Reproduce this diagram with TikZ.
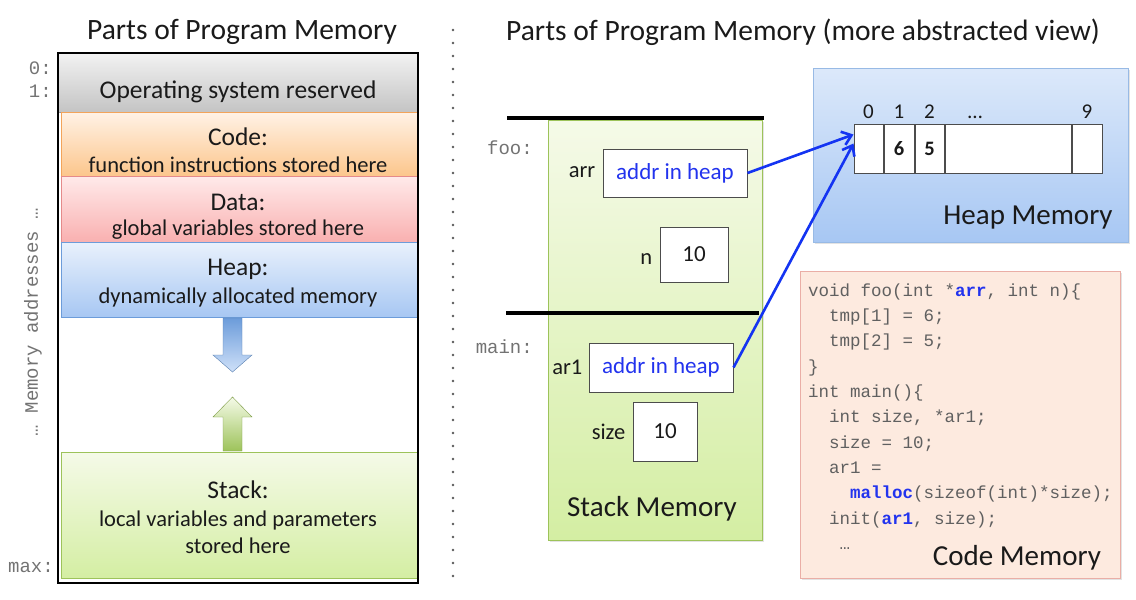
\documentclass[tikz,border=0pt]{standalone}
\usepackage{fontspec}
\setmainfont{Carlito}
\setmonofont{Liberation Mono}
\usetikzlibrary{arrows.meta,positioning,shadows}

\definecolor{osTop}{HTML}{F2F2F2}
\definecolor{osBot}{HTML}{C4C4C4}
\definecolor{osLine}{HTML}{9A9A9A}
\definecolor{codeTop}{HTML}{FFF2E6}
\definecolor{codeBot}{HTML}{FCC68C}
\definecolor{codeLine}{HTML}{F3A45A}
\definecolor{dataTop}{HTML}{FFEAEA}
\definecolor{dataBot}{HTML}{F9B0B0}
\definecolor{dataLine}{HTML}{E58A8A}
\definecolor{heapTop}{HTML}{E9F1FC}
\definecolor{heapBot}{HTML}{A7C7F3}
\definecolor{heapLine}{HTML}{6C9CDA}
\definecolor{stackTop}{HTML}{F5FAE8}
\definecolor{stackBot}{HTML}{D4EEA3}
\definecolor{stackLine}{HTML}{9DC35A}
\definecolor{peach}{HTML}{FDEADF}
\definecolor{peachLine}{HTML}{EAAEA6}
\definecolor{ptrBlue}{HTML}{1434F2}
\definecolor{txtBlue}{HTML}{2233EE}
\definecolor{codeGray}{HTML}{606060}
\definecolor{ink}{HTML}{1A1A1A}

\newcommand{\hl}[1]{\textbf{\color{txtBlue}#1}}

\begin{document}
\begin{tikzpicture}[
    x=1pt, y=-1pt,
    every node/.style={text=ink},
    part/.style={draw=#1Line, top color=#1Top, bottom color=#1Bot, line width=1pt,
      minimum width=356pt, inner sep=0pt},
    soft shadow/.style={drop shadow={opacity=0.22, shadow xshift=2pt, shadow yshift=-2pt}},
    title/.style={font=\fontsize{29.5}{34}\selectfont},
    part name/.style={font=\fontsize{25.5}{30}\selectfont},
    part note/.style={font=\fontsize{22.5}{26}\selectfont},
    mem name/.style={font=\fontsize{29}{34}\selectfont},
    addr label/.style={font=\ttfamily\fontsize{19}{22}\selectfont, text=black!55, inner sep=0pt},
    var box/.style={draw=black!70, fill=white, line width=1pt, inner sep=0pt,
      font=\fontsize{23}{27}\selectfont},
    var name/.style={font=\fontsize{22.5}{27}\selectfont, inner sep=0pt},
    cell/.style={draw=black!70, fill=white, line width=1pt, inner sep=0pt,
      minimum height=49pt, font=\bfseries\fontsize{20.5}{24}\selectfont},
    index/.style={font=\fontsize{21}{25}\selectfont, text height=14pt, text depth=0pt, inner sep=0pt},
    code line/.style={anchor=base west, inner sep=0pt, text=codeGray,
      font=\ttfamily\fontsize{17.5}{20}\selectfont},
    ptr/.style={draw=ptrBlue, line width=2.6pt, -{Straight Barb[length=9pt,width=14pt]}}]
  \useasboundingbox (0,0) rectangle (1136,600);

  \node[title] at (242,32) {Parts of Program Memory};
  \node[title] at (803,32) {Parts of Program Memory (more abstracted view)};

  \node[part=os, minimum width=360pt, minimum height=59pt] (os) at (238,82.5) {};
  \node[part=code, minimum height=64pt] (code) at (239,144) {};
  \node[part=data, minimum height=66pt] (data) at (239,209) {};
  \node[part=heap, minimum height=75pt] (heap) at (239,279.5) {};
  \node[part=stack, minimum height=126pt] (stack) at (239,515) {};
  \node[draw, line width=2pt, minimum width=360pt, minimum height=530pt] (mem) at (238,318) {};

  \node[part name] at (238,92) {Operating system reserved};
  \node[part name] at (238,137) {Code:};
  \node[part note] at (238,165) {function instructions stored here};
  \node[part name] at (238,202) {Data:};
  \node[part note] at (238,230) {global variables stored here};
  \node[part name] at (238,269) {Heap:};
  \node[part note] at (238,297) {dynamically allocated memory};
  \node[part name] at (238,490) {Stack:};
  \node[part note] at (238,520) {local variables and parameters};
  \node[part note] at (238,546) {stored here};

  \draw[draw=heapLine!80!black, top color=heapLine, bottom color=heapTop!60!heapBot]
    (223,318) -- (242,318) -- (242,355) -- (252,355) -- (232.5,372) -- (213,355) -- (223,355) -- cycle;
  \draw[draw=stackLine!80!black, top color=stackTop, bottom color=stackLine]
    (223,451) -- (242,451) -- (242,417) -- (252,417) -- (232.5,397) -- (213,417) -- (223,417) -- cycle;

  \node[addr label, anchor=east] at (52,68) {0:};
  \node[addr label, anchor=east] at (52,91) {1:};
  \node[addr label, anchor=east] at (54,567) {max:};
  \node[addr label, rotate=90] at (33,322) {… Memory addresses …};

  \draw[black!65, line width=2.6pt, line cap=round, dash pattern=on 0pt off 13pt] (453,30) -- (453,580);

  \node[part=stack, minimum width=214pt, minimum height=420pt, soft shadow] (stack mem) at (655,330) {};
  \draw[line width=4pt] (507,118) -- (764,118);
  \draw[line width=4pt] (506,313) -- (759,313);
  \node[addr label, anchor=east] at (533,148) {foo:};
  \node[addr label, anchor=east] at (533,347) {main:};

  \node[var box, minimum width=144pt, minimum height=48pt, text=txtBlue] (arr box) at (675,173) {addr in heap};
  \node[var box, minimum width=68pt, minimum height=55pt] (n box) at (694,254.5) {10};
  \node[var box, minimum width=144pt, minimum height=49pt, text=txtBlue] (ar1 box) at (661,367.5) {addr in heap};
  \node[var box, minimum width=64pt, minimum height=59pt] (size box) at (665,431.5) {10};
  \node[var name, left=7pt of arr box, yshift=1pt] {arr};
  \node[var name, left=7pt of n box, yshift=-5pt] {n};
  \node[var name, left=6pt of ar1 box] {ar1};
  \node[var name, left=7pt of size box] {size};
  \node[mem name] at (652,509) {Stack Memory};

  \node[part=heap, draw=heapLine!70, top color=heapTop!80!heapBot, minimum width=315pt,
    minimum height=174pt, soft shadow] (heap mem) at (970.5,155) {};
  \node[cell, minimum width=29pt] (cell0) at (868.5,148.5) {};
  \node[cell, minimum width=30pt, right=0pt of cell0] (cell1) {6};
  \node[cell, minimum width=29pt, right=0pt of cell1] (cell2) {5};
  \node[cell, minimum width=126pt, right=0pt of cell2] (cell3) {};
  \node[cell, minimum width=30pt, right=0pt of cell3] (cell4) {};
  \node[index, above=5pt of cell0] {0};
  \node[index, above=5pt of cell1] {1};
  \node[index, above=5pt of cell2] {2};
  \node[index, above=5pt of cell3, xshift=-33pt] {…};
  \node[index, above=5pt of cell4] {9};
  \node[mem name] at (1028,218) {Heap Memory};

  \draw[ptr] (arr box.east) -- ([yshift=14pt]cell0.west);
  \draw[ptr] (ar1 box.east) -- ([yshift=5pt]cell0.west);

  \node[draw=peachLine, fill=peach, line width=1pt, minimum width=320pt, minimum height=307pt,
    soft shadow] (code mem) at (960,424.5) {};
  \foreach \codetext [count=\i] in {
      {void foo(int *\hl{arr}, int n)\{},
      {\phantom{xx}tmp[1] = 6;},
      {\phantom{xx}tmp[2] = 5;},
      {\}},
      {int main()\{},
      {\phantom{xx}int size, *ar1;},
      {\phantom{xx}size = 10;},
      {\phantom{xx}ar1 =},
      {\phantom{xxxx}\hl{malloc}(sizeof(int)*size);},
      {\phantom{xx}init(\hl{ar1}, size);},
      {\phantom{xxx}…}}
    \node[code line] at (808,{271+25.3*\i}) {\codetext};
  \node[mem name] at (1017,558) {Code Memory};
\end{tikzpicture}
\end{document}
